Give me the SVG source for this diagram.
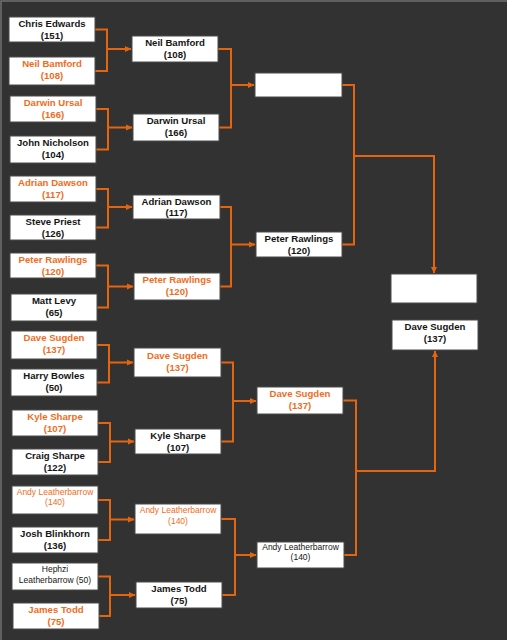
<svg xmlns="http://www.w3.org/2000/svg" width="507" height="640" viewBox="0 0 507 640">
<style>
.bx{fill:#ffffff;stroke:#4a4a4a;stroke-width:1}
.t{font-family:"Liberation Sans",Arial,sans-serif;font-size:9.6px;font-weight:bold;fill:#151515;text-anchor:middle}
.s{font-weight:normal;font-size:8.5px}
.o{fill:#f06c1c}
.c{fill:none;stroke:#e5640f;stroke-width:2}
</style>
<defs>
<marker id="ah" markerUnits="userSpaceOnUse" markerWidth="7" markerHeight="7" refX="6" refY="3.5" orient="auto">
<path d="M0,0.5 L6.5,3.5 L0,6.5 Z" fill="#e5640f"/>
</marker>
</defs>
<rect x="0" y="0" width="507" height="640" fill="#323232"/>
<path d="M1,640 V1 H507" fill="none" stroke="#707070" stroke-width="1.5"/>

<g id="connectors">
<path class="c" d="M95,29.5 H107 V71 H95"/>
<path class="c" d="M107,49 H131" marker-end="url(#ah)"/>
<path class="c" d="M96,109 H108 V149.5 H96"/>
<path class="c" d="M108,127.5 H132" marker-end="url(#ah)"/>
<path class="c" d="M96,189 H108 V227.5 H96"/>
<path class="c" d="M108,207 H132" marker-end="url(#ah)"/>
<path class="c" d="M96,265.5 H108 V307.5 H97"/>
<path class="c" d="M108,286.5 H133" marker-end="url(#ah)"/>
<path class="c" d="M97,345 H109 V382.5 H97"/>
<path class="c" d="M109,362.5 H133" marker-end="url(#ah)"/>
<path class="c" d="M98,423 H110 V462 H98"/>
<path class="c" d="M110,441.5 H134" marker-end="url(#ah)"/>
<path class="c" d="M98,500 H110 V540 H98"/>
<path class="c" d="M110,519.5 H134" marker-end="url(#ah)"/>
<path class="c" d="M98,576.5 H110 V616 H99"/>
<path class="c" d="M110,595 H135" marker-end="url(#ah)"/>

<path class="c" d="M218,49 H231 V127.5 H219"/>
<path class="c" d="M231,85 H254" marker-end="url(#ah)"/>
<path class="c" d="M220,207 H231 V286.5 H220"/>
<path class="c" d="M231,244.5 H255" marker-end="url(#ah)"/>
<path class="c" d="M221,362.5 H233 V441.5 H221"/>
<path class="c" d="M233,401 H256" marker-end="url(#ah)"/>
<path class="c" d="M221,519 H235 V595 H222"/>
<path class="c" d="M235,555 H256" marker-end="url(#ah)"/>

<path class="c" d="M342,85 H354 V244.5 H342"/>
<path class="c" d="M354,156 H434 V273" marker-end="url(#ah)"/>
<path class="c" d="M343,400.5 H356 V555 H344"/>
<path class="c" d="M356,471 H435 V351" marker-end="url(#ah)"/>
</g>

<g id="r1-chris-edwards"><rect class="bx" x="9" y="17" width="86" height="25"/><text class="t" x="52" y="26.8">Chris Edwards<tspan x="52" y="38.8">(151)</tspan></text></g>
<g id="r1-neil-bamford"><rect class="bx" x="9" y="57" width="86" height="28"/><text class="t o" x="52" y="66.8">Neil Bamford<tspan x="52" y="78.8">(108)</tspan></text></g>
<g id="r1-darwin-ursal"><rect class="bx" x="10" y="96" width="86" height="26"/><text class="t o" x="53" y="105.8">Darwin Ursal<tspan x="53" y="117.8">(166)</tspan></text></g>
<g id="r1-john-nicholson"><rect class="bx" x="10" y="136" width="86" height="27"/><text class="t" x="53" y="145.8">John Nicholson<tspan x="53" y="157.8">(104)</tspan></text></g>
<g id="r1-adrian-dawson"><rect class="bx" x="10" y="176" width="86" height="26"/><text class="t o" x="53" y="185.8">Adrian Dawson<tspan x="53" y="197.8">(117)</tspan></text></g>
<g id="r1-steve-priest"><rect class="bx" x="10" y="215" width="86" height="25"/><text class="t" x="53" y="224.8">Steve Priest<tspan x="53" y="236.8">(126)</tspan></text></g>
<g id="r1-peter-rawlings"><rect class="bx" x="10" y="253" width="86" height="25"/><text class="t o" x="53" y="262.8">Peter Rawlings<tspan x="53" y="274.8">(120)</tspan></text></g>
<g id="r1-matt-levy"><rect class="bx" x="11" y="294" width="86" height="27"/><text class="t" x="54" y="303.8">Matt Levy<tspan x="54" y="315.8">(65)</tspan></text></g>
<g id="r1-dave-sugden"><rect class="bx" x="11" y="331" width="86" height="28"/><text class="t o" x="54" y="340.8">Dave Sugden<tspan x="54" y="352.8">(137)</tspan></text></g>
<g id="r1-harry-bowles"><rect class="bx" x="11" y="369" width="86" height="27"/><text class="t" x="54" y="378.8">Harry Bowles<tspan x="54" y="390.8">(50)</tspan></text></g>
<g id="r1-kyle-sharpe"><rect class="bx" x="12" y="410" width="86" height="26"/><text class="t o" x="55" y="419.8">Kyle Sharpe<tspan x="55" y="431.8">(107)</tspan></text></g>
<g id="r1-craig-sharpe"><rect class="bx" x="12" y="449" width="86" height="26"/><text class="t" x="55" y="458.8">Craig Sharpe<tspan x="55" y="470.8">(122)</tspan></text></g>
<g id="r1-andy-leatherbarrow"><rect class="bx" x="12" y="486" width="86" height="28"/><text class="t s o" x="55" y="494.8">Andy Leatherbarrow<tspan x="55" y="505.4">(140)</tspan></text></g>
<g id="r1-josh-blinkhorn"><rect class="bx" x="12" y="527" width="86" height="26"/><text class="t" x="55" y="536.8">Josh Blinkhorn<tspan x="55" y="548.8">(136)</tspan></text></g>
<g id="r1-hephzi-leatherbarrow"><rect class="bx" x="12" y="563" width="86" height="27"/><text class="t s" x="55" y="572.3">Hephzi<tspan x="55" y="582.7">Leatherbarrow (50)</tspan></text></g>
<g id="r1-james-todd"><rect class="bx" x="13" y="603" width="86" height="26"/><text class="t o" x="56" y="612.8">James Todd<tspan x="56" y="624.8">(75)</tspan></text></g>

<g id="r2-neil-bamford"><rect class="bx" x="132" y="36" width="86" height="26"/><text class="t" x="175" y="45.8">Neil Bamford<tspan x="175" y="57.8">(108)</tspan></text></g>
<g id="r2-darwin-ursal"><rect class="bx" x="133" y="114" width="86" height="27"/><text class="t" x="176" y="123.6">Darwin Ursal<tspan x="176" y="135.8">(166)</tspan></text></g>
<g id="r2-adrian-dawson"><rect class="bx" x="133" y="195" width="87" height="24"/><text class="t" x="176.5" y="204.6">Adrian Dawson<tspan x="176.5" y="216.4">(117)</tspan></text></g>
<g id="r2-peter-rawlings"><rect class="bx" x="134" y="273" width="86" height="27"/><text class="t o" x="177" y="283">Peter Rawlings<tspan x="177" y="295">(120)</tspan></text></g>
<g id="r2-dave-sugden"><rect class="bx" x="134" y="348" width="87" height="29"/><text class="t o" x="177.5" y="358.6">Dave Sugden<tspan x="177.5" y="370.6">(137)</tspan></text></g>
<g id="r2-kyle-sharpe"><rect class="bx" x="135" y="429" width="86" height="25"/><text class="t" x="178" y="438.6">Kyle Sharpe<tspan x="178" y="450.8">(107)</tspan></text></g>
<g id="r2-andy-leatherbarrow"><rect class="bx" x="135" y="504" width="86" height="30"/><text class="t s o" x="178" y="513">Andy Leatherbarrow<tspan x="178" y="523.6">(140)</tspan></text></g>
<g id="r2-james-todd"><rect class="bx" x="136" y="582" width="86" height="26"/><text class="t" x="179" y="592">James Todd<tspan x="179" y="604">(75)</tspan></text></g>

<g id="r3-empty-top"><rect class="bx" x="255" y="73" width="87" height="24"/></g>
<g id="r3-peter-rawlings"><rect class="bx" x="256" y="232" width="86" height="25"/><text class="t" x="299" y="242">Peter Rawlings<tspan x="299" y="254">(120)</tspan></text></g>
<g id="r3-dave-sugden"><rect class="bx" x="257" y="387" width="86" height="27"/><text class="t o" x="300" y="397">Dave Sugden<tspan x="300" y="409">(137)</tspan></text></g>
<g id="r3-andy-leatherbarrow"><rect class="bx" x="257" y="542" width="87" height="26"/><text class="t s" x="300.5" y="549.8">Andy Leatherbarrow<tspan x="300.5" y="560.4">(140)</tspan></text></g>

<g id="final-empty"><rect class="bx" x="391" y="274" width="86" height="29"/></g>
<g id="final-dave-sugden"><rect class="bx" x="392" y="320" width="86" height="30"/><text class="t" x="435" y="329.6">Dave Sugden<tspan x="435" y="342">(137)</tspan></text></g>
</svg>
